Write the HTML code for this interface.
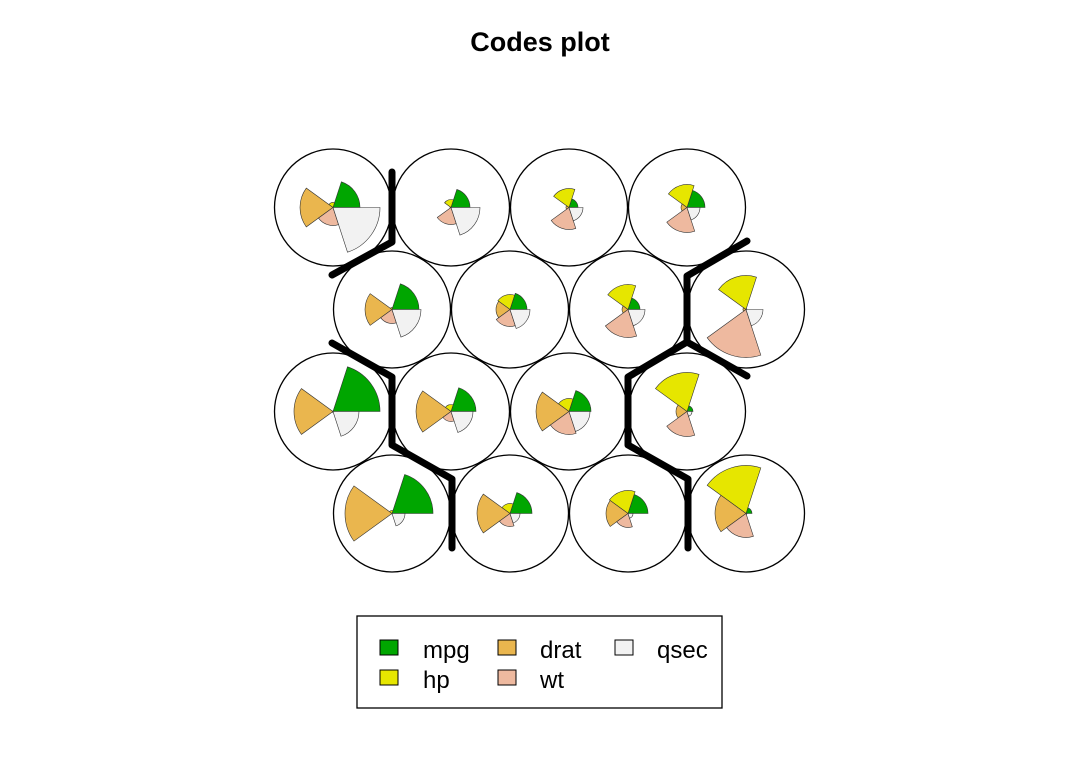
<!DOCTYPE html>
<html><head><meta charset="utf-8"><style>
html,body{margin:0;padding:0;background:#fff;}
body{width:1080px;height:771px;overflow:hidden;position:relative;font-family:"Liberation Sans",sans-serif;}
</style></head><body>
<svg id="s" width="1080" height="771" viewBox="0 0 1080 771" xmlns="http://www.w3.org/2000/svg">
<text x="540" y="51" text-anchor="middle" font-family="Liberation Sans, sans-serif" font-weight="bold" font-size="27">Codes plot</text>
<g id="circ" fill="none" stroke="#000" stroke-width="1.3"></g>
<g id="wedges" stroke="#333" stroke-width="0.6"></g>
<g fill="none" stroke="#000" stroke-width="7" stroke-linecap="round" stroke-linejoin="round">
<polyline points="392,172 392,242 332,275"/>
<polyline points="332,343 392,377 392,445 452,479 452,548"/>
<polyline points="747,241 687,276 687,342"/>
<polyline points="747,376 687,342 628,377 628,445 688,479 688,548"/>
</g>
<rect x="357" y="616" width="365" height="92" fill="none" stroke="#000" stroke-width="1.3"/>
<g stroke="#000" stroke-width="1">
<rect x="380" y="640" width="18" height="15" fill="#00A600"/>
<rect x="380" y="670" width="18" height="15" fill="#E6E600"/>
<rect x="498" y="640" width="18" height="15" fill="#EAB64E"/>
<rect x="498" y="670" width="18" height="15" fill="#EEB99F"/>
<rect x="615" y="640" width="18" height="15" fill="#F2F2F2"/>
</g>
<g font-family="Liberation Sans, sans-serif" font-size="24">
<text x="423" y="658">mpg</text>
<text x="423" y="688">hp</text>
<text x="540" y="658">drat</text>
<text x="540" y="688">wt</text>
<text x="657" y="658">qsec</text>
</g>
</svg>
<script>
var cols=["#00A600","#E6E600","#EAB64E","#EEB99F","#F2F2F2"];
var nodes=[
[333,207.5,[27,5,33,18,47]],
[451,207.5,[19,8,1,17,29]],
[569,207.5,[9,19,3,22,14]],
[687,207.5,[18,23,6,25,13]],
[392,309.5,[27,2,27,14,29]],
[510,309.5,[17,15,14,17,20]],
[628,309.5,[12,25,6,28,17]],
[746,309.5,[1,34,3,48,17]],
[333,411.5,[47,0.5,39,1,26]],
[451,411.5,[25,7,35,10,22]],
[569,411.5,[22,13,33,23,21]],
[687,411.5,[6,39,11,25,5]],
[392,513.5,[41,3,47,0.5,13]],
[510,513.5,[22,10,33,13,10]],
[628,513.5,[20,23,22,14,5]],
[746,513.5,[6,48,31,24,1]]
];
var NS="http://www.w3.org/2000/svg";
var cg=document.getElementById("circ"),wg=document.getElementById("wedges");
nodes.forEach(function(n){
 var c=document.createElementNS(NS,"circle");
 c.setAttribute("cx",n[0]);c.setAttribute("cy",n[1]);c.setAttribute("r",58.5);cg.appendChild(c);
 for(var i=0;i<5;i++){
  var r=n[2][i];var a0=i*72*Math.PI/180,a1=(i+1)*72*Math.PI/180;
  var x0=n[0]+r*Math.cos(a0),y0=n[1]-r*Math.sin(a0),x1=n[0]+r*Math.cos(a1),y1=n[1]-r*Math.sin(a1);
  var p=document.createElementNS(NS,"path");
  p.setAttribute("d","M"+n[0]+","+n[1]+"L"+x0+","+y0+"A"+r+","+r+" 0 0 0 "+x1+","+y1+"Z");
  p.setAttribute("fill",cols[i]);wg.appendChild(p);
 }
});
</script>
</body></html>
